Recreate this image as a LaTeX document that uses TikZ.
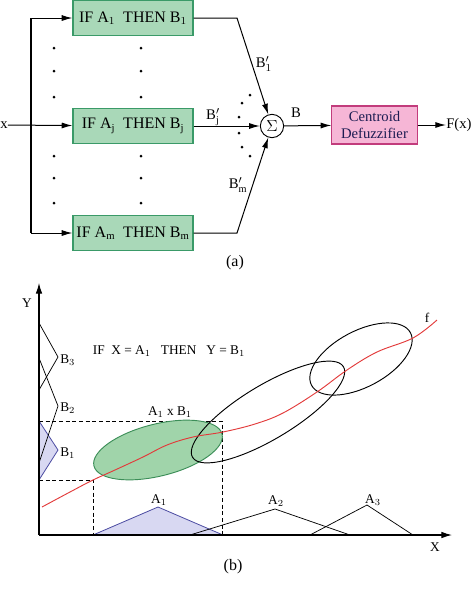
\documentclass[tikz,border=0pt]{standalone}
\usepackage{fontspec}
\setmainfont{Liberation Serif}
\usetikzlibrary{arrows.meta}
\definecolor{rulefill}{HTML}{A9D8B8}
\definecolor{ruleline}{HTML}{3A9A68}
\definecolor{deffill}{HTML}{F6B6D6}
\definecolor{defline}{HTML}{C23C7C}
\definecolor{deftext}{HTML}{1C1C52}
\definecolor{memfill}{HTML}{D8D8F2}
\definecolor{memline}{HTML}{4C4CA2}
\definecolor{patchfill}{HTML}{A0D4AA}
\definecolor{patchline}{HTML}{3C8E58}
\definecolor{fcurve}{HTML}{E23A3A}
\tikzset{
  rule/.style={draw=ruleline, fill=rulefill, line width=0.9pt, minimum width=90pt,
    minimum height=26pt, inner sep=0pt, font=\fontsize{12}{14}\selectfont},
  defuzz/.style={draw=defline, fill=deffill, line width=0.8pt, minimum width=64pt,
    minimum height=28.5pt, inner sep=0pt, align=center, text=deftext,
    font=\fontsize{11}{12.5}\selectfont},
  sum/.style={draw, circle, line width=0.7pt, minimum size=17.5pt, inner sep=0pt,
    font=\fontsize{12}{14}\selectfont},
  arr/.style={-{Latex[length=8pt,width=4.5pt]}, line width=0.75pt},
  lbl/.style={inner sep=0pt, font=\fontsize{11}{12}\selectfont},
  small/.style={inner sep=0pt, font=\fontsize{10}{12}\selectfont},
  mem/.style={line width=0.55pt},
  memfilled/.style={draw=memline, fill=memfill, line width=0.6pt},
  guide/.style={dashed, line width=0.6pt, dash pattern=on 3pt off 2pt},
}
\begin{document}
\begin{tikzpicture}[x=0.75pt, y=-0.75pt]
\useasboundingbox (0,0) rectangle (474,594);
% (a) the rule base
\node[rule] (r1) at (133,18) {IF A$_1$\ \ THEN B$_1$};
\node[rule] (rj) at (133,126) {IF A$_\mathrm{j}$\ \ THEN B$_\mathrm{j}$};
\node[rule] (rm) at (133,233) {IF A$_\mathrm{m}$\ \ THEN B$_\mathrm{m}$};
\node[sum] (s) at (272,126) {$\Sigma$};
\node[defuzz] (d) at (374.5,125) {Centroid\\Defuzzifier};
\node[lbl, anchor=west] (x) at (0,125) {x};
\node[lbl, anchor=west] (fx) at (446,125) {F(x)};
\coordinate (top) at (31,18);
\coordinate (bot) at (31,233);
\coordinate (k1) at (237,18);
\coordinate (km) at (237,233);
\draw[line width=1pt] (top) -- (bot);
\draw[arr] (top) -- (r1);
\draw[arr] (x) -- (rj);
\draw[arr] (bot) -- (rm);
\draw[arr] (r1) -- (k1) -- (s);
\draw[arr] (rj) -- (s);
\draw[arr] (rm) -- (km) -- (s);
\draw[arr] (s) -- (d);
\draw[arr] (d) -- (fx);
\node[lbl] (b1) at (264,64) {$\mathrm{B}'_1$};
\node[lbl] (bj) at (213,117) {$\mathrm{B}'_\mathrm{j}$};
\node[lbl] (bm) at (238,185) {$\mathrm{B}'_\mathrm{m}$};
\node[lbl] (b) at (296,113) {B};
\foreach \y in {48,71,97,156,178,203}
  \fill (54,\y) circle (1.5) (141,\y) circle (1.5);
\foreach \p in {(250,95),(242,103),(239,117),(239,133),(242,147),(250,156)}
  \fill \p circle (1.5);
\node[font=\fontsize{12}{14}\selectfont] (cap a) at (235,263) {(a)};
% (b) the fuzzy patches
\coordinate (o) at (39,535);
\coordinate (ytip) at (39,283);
\coordinate (xtip) at (452,535);
\draw[guide] (39,421) -- (222,421) -- (222,535);
\draw[guide] (39,480) -- (93,480) -- (93,535);
\filldraw[memfilled] (39,421) -- (58,450) -- (39,480) -- cycle;
\draw[mem] (39,323) -- (58,357) -- (39,390);
\draw[mem] (39,358) -- (58,406) -- (39,463);
\filldraw[memfilled] (93,535) -- (158,507) -- (223,535) -- cycle;
\draw[mem] (190,535) -- (275,509) -- (350,535);
\draw[mem] (310,535) -- (367,505) -- (413,535);
\draw[-{Latex[length=8pt,width=5pt]}, line width=0.9pt] (o) -- (ytip);
\draw[-{Latex[length=8pt,width=5pt]}, line width=0.9pt] (o) -- (xtip);
\node[small] (ylab) at (27,303) {Y};
\node[small] (xlab) at (435,547) {X};
\node[small, anchor=west] (lb3) at (60,360) {B$_3$};
\node[small, anchor=west] (lb2) at (60,408) {B$_2$};
\node[small, anchor=west] (lb1) at (60,453) {B$_1$};
\node[small] (la1) at (159,500) {A$_1$};
\node[small] (la2) at (276,501) {A$_2$};
\node[small] (la3) at (373,500) {A$_3$};
\node[small] (rule b) at (169,351) {IF\ \ X = A$_1$\ \ \ THEN\ \ \ Y = B$_1$};
\node[small] (prod) at (170,412) {A$_1$ x B$_1$};
\draw[draw=patchline, fill=patchfill, line width=0.7pt]
  (158,450) ellipse [x radius=66, y radius=26, rotate=14];
\draw[line width=0.7pt] (268,412) ellipse [x radius=88, y radius=27, rotate=31];
\draw[line width=0.7pt] (361,359) ellipse [x radius=56, y radius=28, rotate=28];
\draw[fcurve, line width=0.7pt] plot[smooth, tension=0.6] coordinates {(42,507) (70,492) (93,480)
  (115,470) (143,457) (167,445) (193,437) (223,432) (255,424) (283,413) (317,392) (347,370)
  (377,352) (413,338) (437,320)};
\node[small] (flab) at (427,318) {f};
\node[font=\fontsize{12}{14}\selectfont] (cap b) at (233,567) {(b)};
\end{tikzpicture}
\end{document}
